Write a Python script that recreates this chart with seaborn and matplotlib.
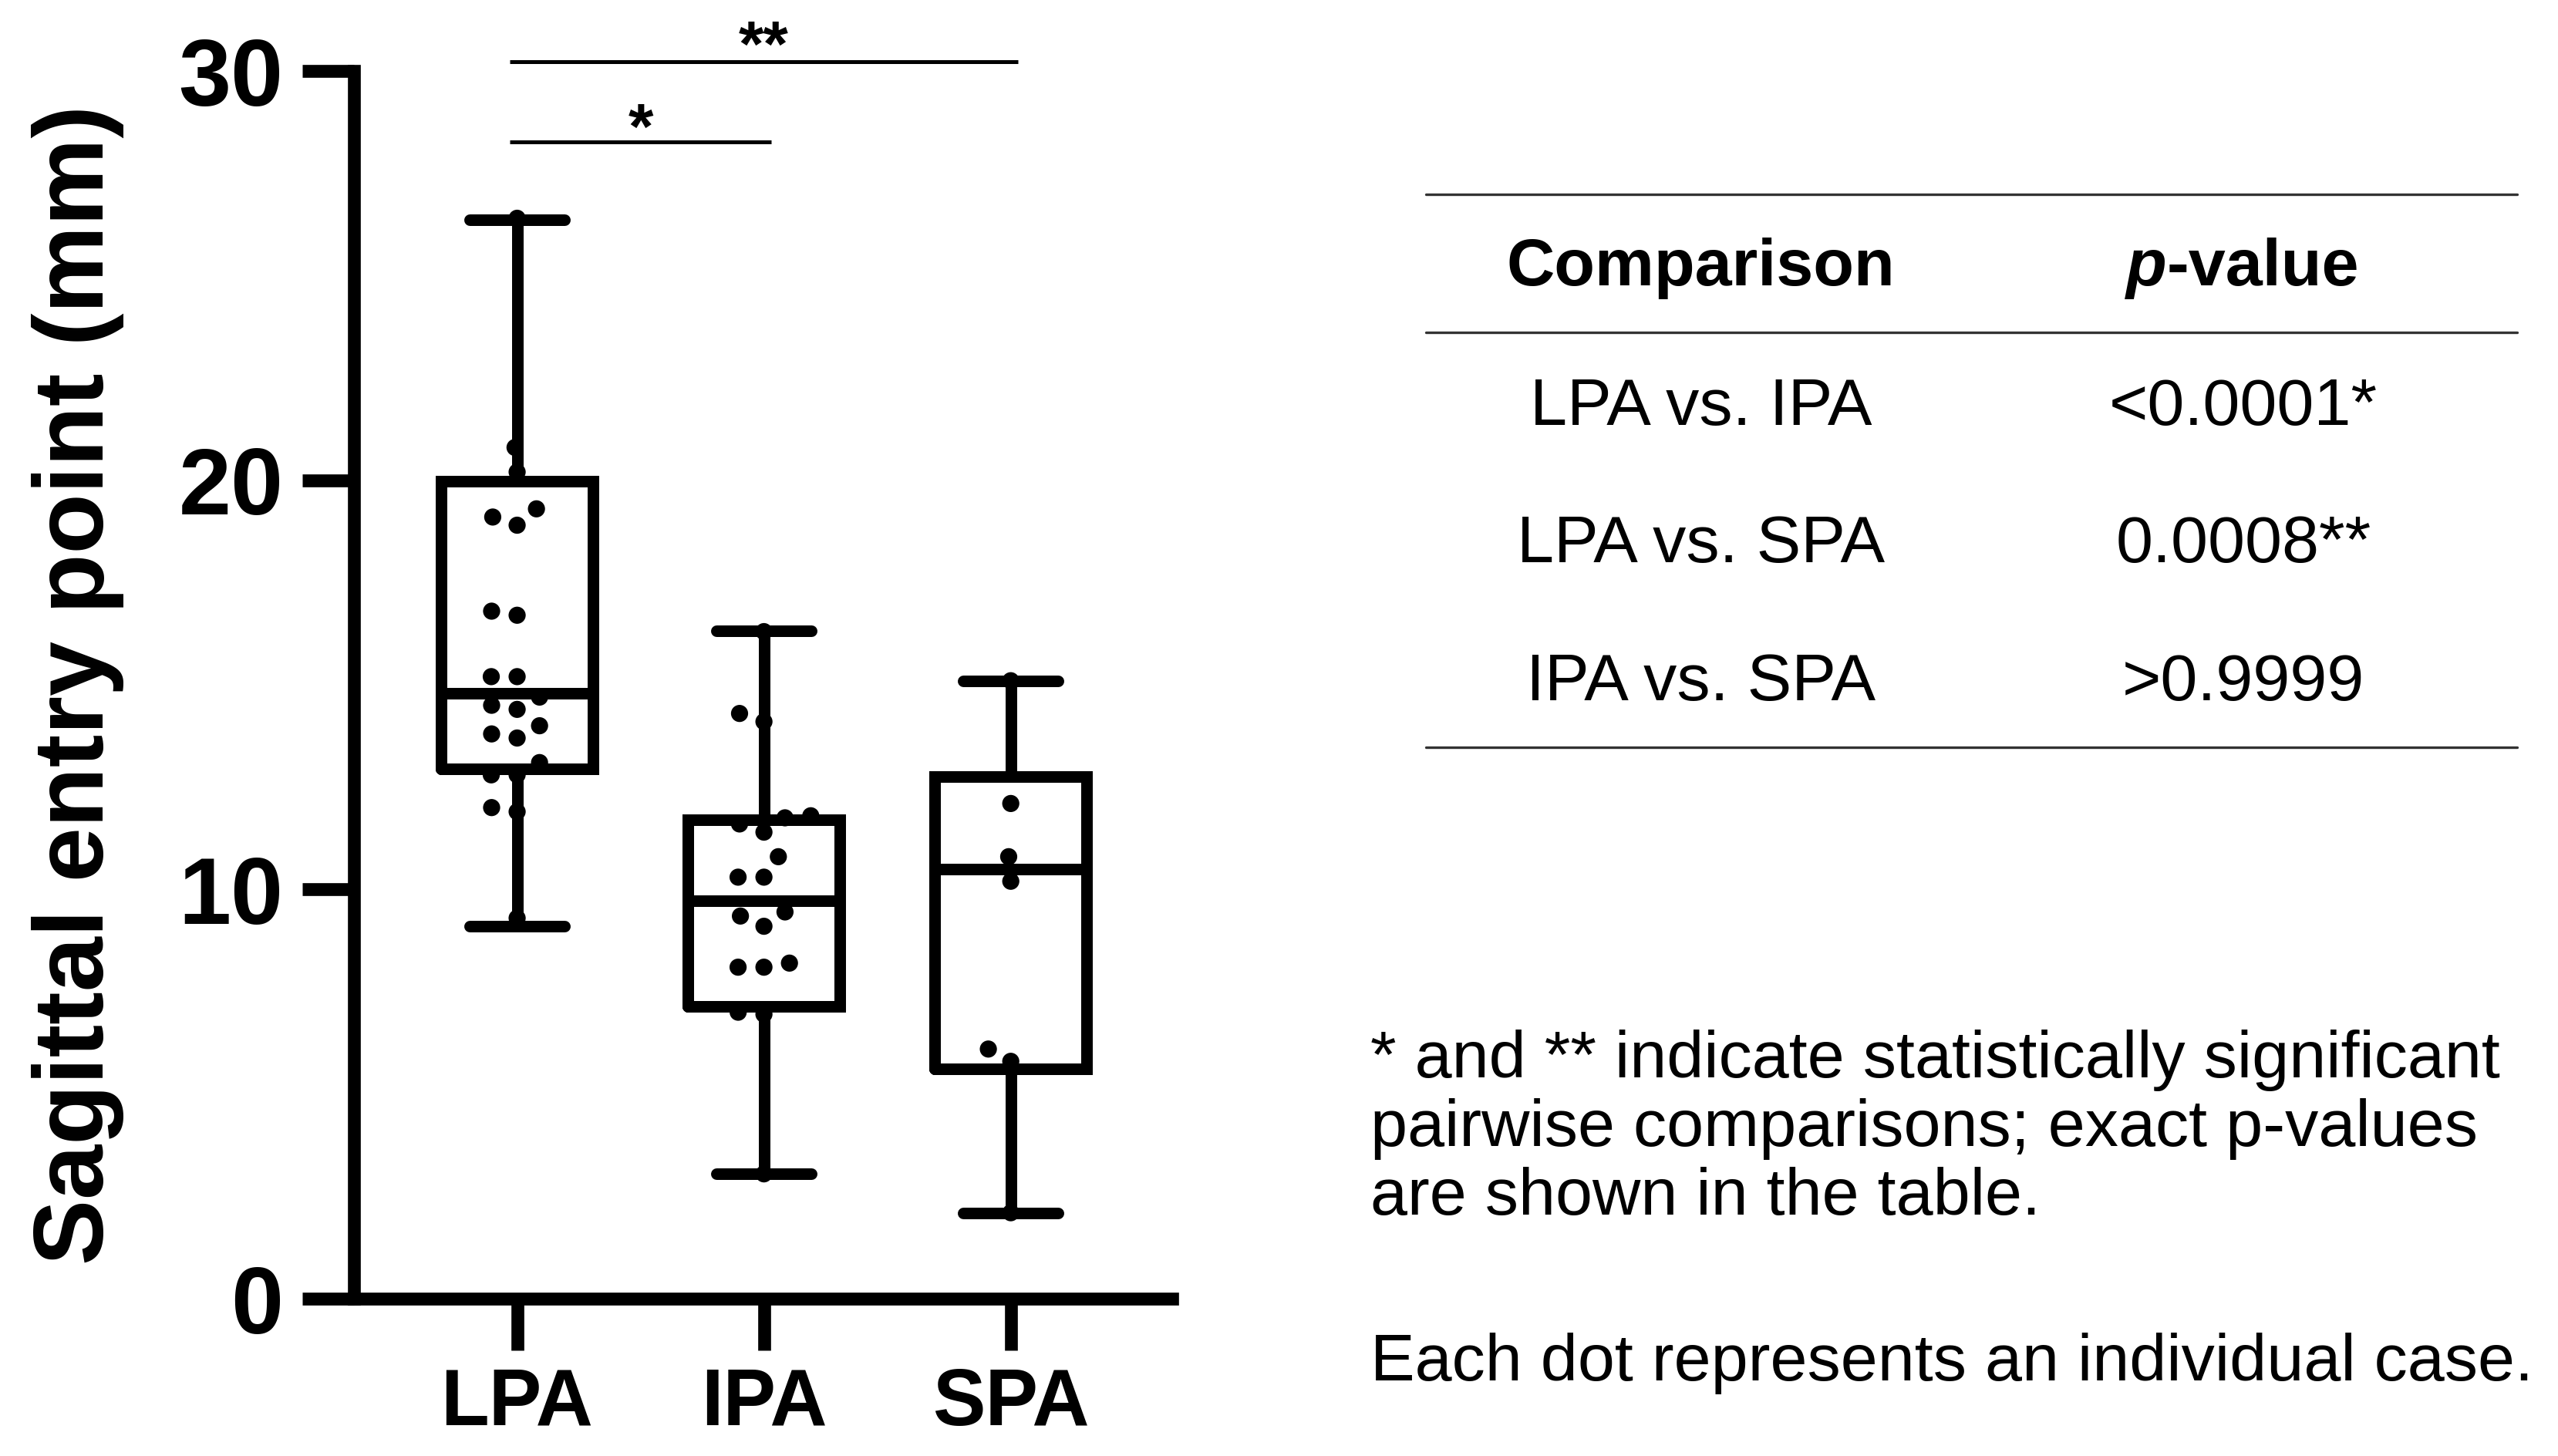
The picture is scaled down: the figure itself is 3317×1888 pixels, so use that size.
import matplotlib
matplotlib.use("Agg")
import matplotlib.pyplot as plt
import seaborn as sns
import pandas as pd
from matplotlib.lines import Line2D

sns.set_theme(style="ticks")
plt.rcParams["font.family"] = ["Liberation Sans", "DejaVu Sans"]
plt.rcParams["text.color"] = "black"
plt.rcParams["xtick.labelcolor"] = "black"
plt.rcParams["ytick.labelcolor"] = "black"

groups = ["LPA", "IPA", "SPA"]

# individual cases (mm)
lpa = [26.4, 20.8, 20.2, 19.3, 19.1, 18.9, 16.8, 16.7, 15.2, 15.2, 14.7,
       14.5, 14.4, 14.0, 13.8, 13.7, 13.1, 12.8, 12.8, 12.0, 11.9, 9.3]
ipa = [16.3, 14.3, 14.1, 11.8, 11.75, 11.6, 11.4, 10.8, 10.3, 10.3, 9.45,
       9.35, 9.1, 8.2, 8.1, 8.1, 7.0, 6.95, 3.05]
spa = [15.1, 12.1, 10.8, 10.2, 6.1, 5.8, 2.1]

# box summaries: min, Q1, median, Q3, max
box_min = [9.1, 3.05, 2.1]
box_q1 = [12.95, 7.15, 5.62]
box_med = [14.8, 9.72, 10.5]
box_q3 = [19.97, 11.7, 12.76]
box_max = [26.37, 16.32, 15.1]

# significance brackets
pairs = [(0, 1), (0, 2)]
stars = ["*", "**"]

comparisons = ["LPA vs. IPA", "LPA vs. SPA", "IPA vs. SPA"]
p_values = ["<0.0001*", "0.0008**", ">0.9999"]

note_lines = ["* and ** indicate statistically significant",
              "pairwise comparisons; exact p-values",
              "are shown in the table."]
note_last = "Each dot represents an individual case."

cases = pd.DataFrame({
    "group": ["LPA"] * len(lpa) + ["IPA"] * len(ipa) + ["SPA"] * len(spa),
    "value": lpa + ipa + spa,
})
# five numbers per group -> with whis=(0, 100) the box uses exactly these
rows = []
for i, g in enumerate(groups):
    for v in (box_min[i], box_q1[i], box_med[i], box_q3[i], box_max[i]):
        rows.append({"group": g, "value": v})
summary = pd.DataFrame(rows)

W, H = 3317, 1888
fig = plt.figure(figsize=(W / 200, H / 200), dpi=200)
ax = fig.add_axes([459 / W, 1 - 1684 / H, (1520 - 459) / W, (1684 - 92) / H])

lw = 5.4
sns.boxplot(data=summary, x="group", y="value", order=groups, whis=(0, 100),
            fill=False, color="black", linecolor="black", width=0.615,
            linewidth=lw, showfliers=False, capwidths=0.385,
            boxprops=dict(solid_joinstyle="miter"),
            capprops=dict(solid_capstyle="round"), ax=ax)
# invisible edge only widens the swarm spacing
sns.swarmplot(data=cases, x="group", y="value", order=groups, color="black",
              size=8, linewidth=3.5, edgecolor="none", ax=ax, zorder=4)

ax.set_xlim(-0.661, 2.654)
ax.set_ylim(0, 30)
ax.set_yticks([0, 10, 20, 30])
ax.set_xlabel("")
ax.set_ylabel("")
sns.despine(ax=ax)
for s in ["left", "bottom"]:
    ax.spines[s].set_linewidth(6)
    ax.spines[s].set_color("black")
ax.tick_params(axis="both", width=6, length=24, color="black")
ax.tick_params(axis="y", pad=9, labelsize=44)
ax.tick_params(axis="x", pad=8, labelsize=37)
for t in ax.get_xticklabels() + ax.get_yticklabels():
    t.set_fontweight("bold")
    t.set_color("black")

fig.text(101 / W, 1 - 888 / H, "Sagittal entry point (mm)", rotation=90,
         ha="center", va="center", fontsize=46, fontweight="bold")

# brackets with stars
bar_y = [28.27, 30.23]
star_y = [28.09, 30.12]
for (a, b), s, y, ys in zip(pairs, stars, bar_y, star_y):
    ax.plot([a - 0.03, b + 0.03], [y, y], color="black", lw=1.8,
            solid_capstyle="butt", clip_on=False)
    ax.text((a + b) / 2, ys, s, ha="center", va="baseline", fontsize=30,
            fontweight="bold", clip_on=False)

# table on the right
rule_x = (1849 / W, 3264 / W)
for y in (252, 431, 969):
    fig.add_artist(Line2D(rule_x, (1 - y / H, 1 - y / H), color="#333333",
                          lw=1.2, transform=fig.transFigure))
col1, col2 = 0.665, 2909 / W
fs = 31.1
fig.text(col1, 1 - 370 / H, "Comparison", ha="center", va="baseline",
         fontsize=fs, fontweight="bold")
join = 2810 / W
fig.text(join, 1 - 370 / H, "p", ha="right", va="baseline", fontsize=fs,
         fontweight="bold", fontstyle="italic")
fig.text(join, 1 - 370 / H, "-value", ha="left", va="baseline", fontsize=fs,
         fontweight="bold")
for c, p, y in zip(comparisons, p_values, (551, 729, 908)):
    fig.text(col1, 1 - y / H, c, ha="center", va="baseline", fontsize=fs)
    fig.text(col2, 1 - y / H, p, ha="center", va="baseline", fontsize=fs)

for i, line in enumerate(note_lines):
    fig.text(1777 / W, 1 - (1397 + 89 * i) / H, line, ha="left",
             va="baseline", fontsize=fs)
fig.text(1777 / W, 1 - 1790 / H, note_last, ha="left", va="baseline",
         fontsize=fs)

fig.savefig("out.png", dpi=200, facecolor="white")
